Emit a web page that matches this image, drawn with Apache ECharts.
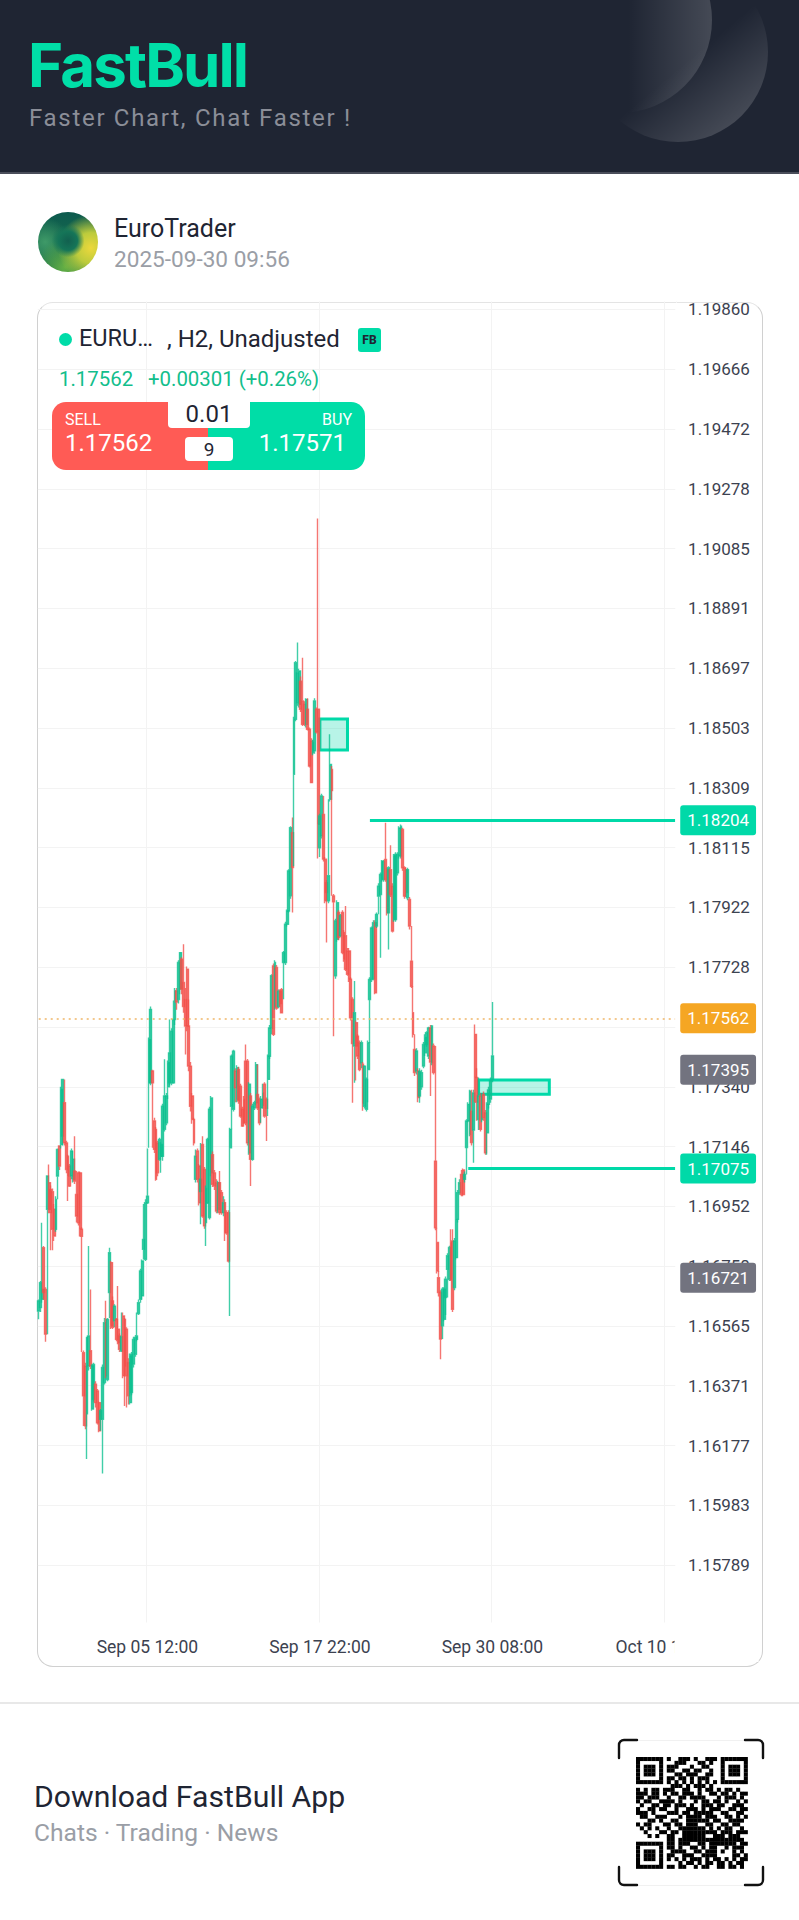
<!DOCTYPE html>
<html><head><meta charset="utf-8">
<script src="https://cdn.jsdelivr.net/npm/echarts@6/dist/echarts.min.js"></script>
<style>
html,body{margin:0;padding:0;background:#fff;width:799px;height:1920px;overflow:hidden;font-family:Roboto,sans-serif}
#page{position:relative;width:799px;height:1920px;overflow:hidden}
.t{position:absolute;white-space:nowrap;line-height:1;transform:translateY(-50%)}
.b{position:absolute}
#hdr{position:absolute;left:0;top:0;width:799px;height:172px;background:#1F2533;overflow:hidden;border-bottom:2px solid #4a4e5a}
#card{position:absolute;left:37px;top:302px;width:724px;height:1363px;border:1.5px solid #d0d0d0;border-top-color:#e4e4e4;border-radius:16px;box-sizing:content-box}
#chart{position:absolute;left:0;top:0;width:799px;height:1920px}
</style></head>
<body><div id="page">
<div id="hdr">
 <div class="b" style="left:526px;top:-73px;width:186px;height:186px;border-radius:50%;background:linear-gradient(90deg,rgba(255,255,255,0) 55%,rgba(255,255,255,.17) 100%)"></div>
 <div class="b" style="left:588px;top:-38px;width:180px;height:180px;border-radius:50%;background:linear-gradient(140deg,rgba(255,255,255,0) 55%,rgba(255,255,255,.18) 88%)"></div>
 <div class="t" style="left:28px;top:65px;font:700 60px Inter,sans-serif;color:#00DFA8;letter-spacing:-1.9px">FastBull</div>
 <div class="t" style="left:29px;top:118px;font-size:24px;color:#8B8E98;letter-spacing:1.7px">Faster Chart, Chat Faster !</div>
</div>
<div class="b" style="left:38px;top:212px;width:60px;height:60px;border-radius:50%;background:radial-gradient(circle at 50% 48%,#12604f 0,#157558 22%,rgba(21,117,88,0) 38%),radial-gradient(circle at 88% 60%,#ecd83c 0,#bccb3c 24%,rgba(90,160,60,0) 52%),radial-gradient(circle at 45% 92%,#66b044 0,rgba(60,140,60,0) 45%),radial-gradient(circle at 12% 50%,#3f9a68 0,rgba(63,154,104,0) 40%),linear-gradient(#0d5a4e,#1f7a4e)"></div>
<div class="t" style="left:114px;top:228px;font-size:25px;color:#1F2533">EuroTrader</div>
<div class="t" style="left:114px;top:260px;font-size:22.6px;color:#9A9EA6">2025-09-30 09:56</div>
<div id="card"></div>
<div id="chart"></div>

<div class="b" style="left:59px;top:333px;width:13px;height:13px;border-radius:50%;background:#00DCA8"></div>
<div class="t" style="left:79px;top:339px;font-size:23.5px;color:#1F2533">EURU…</div>
<div class="t" style="left:167px;top:339px;font-size:24px;color:#1F2533">, H2, Unadjusted</div>
<div class="b" style="left:358px;top:328px;width:23px;height:24px;border-radius:3px;background:#00DCA8;color:#1F2533;font:800 12px/24px Roboto;text-align:center">FB</div>
<div class="t" style="left:59px;top:379px;font-size:20.4px;color:#12BE8C">1.17562</div>
<div class="t" style="left:148px;top:379px;font-size:20.4px;color:#12BE8C">+0.00301 (+0.26%)</div>

<div class="b" style="left:52px;top:402px;width:156px;height:68px;background:#FF5B55;border-radius:14px 0 0 14px"></div>
<div class="b" style="left:208px;top:402px;width:157px;height:68px;background:#00DDA7;border-radius:0 14px 14px 0"></div>
<div class="b" style="left:168px;top:402px;width:82px;height:26px;background:#fff;border-radius:0 0 4px 4px"></div>
<div class="b" style="left:185px;top:437px;width:48px;height:24px;background:#fff;border-radius:4px"></div>
<div class="t" style="left:168px;width:82px;text-align:center;top:414px;font-size:24px;color:#1F2533">0.01</div>
<div class="t" style="left:185px;width:48px;text-align:center;top:449px;font-size:19px;color:#1F2533">9</div>
<div class="t" style="left:65px;top:420px;font-size:16px;color:#fff">SELL</div>
<div class="t" style="left:65px;top:443px;font-size:24px;color:#fff">1.17562</div>
<div class="t" style="right:447px;top:420px;font-size:16px;color:#fff">BUY</div>
<div class="t" style="right:453px;top:443px;font-size:24px;color:#fff">1.17571</div>

<div class="b" style="left:0;top:1702px;width:799px;height:2px;background:#E8E8E8"></div>
<div class="t" style="left:34px;top:1797px;font-size:30.2px;color:#1F2533">Download FastBull App</div>
<div class="t" style="left:34px;top:1833px;font-size:24.6px;color:#9A9EA6">Chats · Trading · News</div>
<canvas id="qr" class="b" style="left:615px;top:1735px" width="155" height="155"></canvas>
</div>
<script>
// Price ticks printed on the right-hand axis
const priceTicks=[1.19860,1.19666,1.19472,1.19278,1.19085,1.18891,1.18697,1.18503,1.18309,1.18115,1.17922,1.17728,1.17534,1.17340,1.17146,1.16952,1.16758,1.16565,1.16371,1.16177,1.15983,1.15789];
// Time labels, every 100 bars from bar 63
const dateTicks=['Sep 05 12:00','Sep 17 22:00','Sep 30 08:00','Oct 10 18:00'];
const firstDateTick=63, barsPerDateTick=100, slotCount=370;
// Candles, points above 1.00000: [open, close, low, high]
const barsA=[[16613,16646,16586,16650],[16624,16705,16610,16710],[16651,16683,16640,16899],[16818,16673,16650,16824],[16683,16538,16513,16690],[16943,17051,16538,17051],[17029,16943,16930,17088],[17007,16932,16810,17020],[17000,16878,16810,17010],[16943,16856,16840,16960],[16878,16975,16870,16985],[17051,17137,16975,17140],[17148,17083,17070,17150],[17153,17331,17140,17340],[17180,17364,17150,17364],[17288,17158,17150,17364],[17158,17072,17060,17165],[17115,17051,16970,17120],[17083,17018,17015,17090],[17051,17132,17040,17140],[17040,17105,17030,17132],[17067,17034,17025,17180],[16991,16921,16900,17067],[17061,16899,16890,17065],[17061,16878,16855,17065],[16878,16855,16480,16885],[16478,16338,16240,16485],[16435,16241,16230,16445],[16280,16527,16133,16530],[16435,16532,16420,16824],[16484,16435,16425,16683],[16295,16435,16290,16440],[16327,16440,16320,16445],[16376,16316,16300,16385],[16354,16251,16245,16360],[16316,16225,16220,16320],[16262,16290,16225,16295],[16262,16430,16086,16440],[16381,16575,16375,16590],[16586,16403,16395,16646],[16391,16586,16385,16590],[16673,16802,16590,16818],[16770,16565,16555,16775],[16646,16560,16555,16660],[16581,16629,16560,16635],[16586,16521,16515,16590],[16554,16511,16505,16694],[16532,16489,16480,16540],[16483,16530,16480,16608],[16597,16403,16395,16608],[16586,16435,16305,16590],[16554,16403,16300,16560],[16446,16338,16310,16460],[16316,16467,16310,16475],[16349,16473,16340,16480],[16441,16521,16430,16530],[16473,16527,16465,16535],[16521,16532,16515,16608],[16605,16640,16600,16650],[16651,16743,16640,16750],[16662,16775,16650,16780],[16813,16845,16780,16960],[16781,16964,16775,16975],[16964,16985,16960,17140],[17353,17493,17142,17500],[17353,17591,17345,17600]];
const barsB=[[17391,17353,17142,17395],[17229,17137,17125,17240],[17202,17040,17035,17210],[17158,17061,17050,17165],[17105,17169,17100,17175],[17115,17153,17061,17160],[17115,17277,17100,17285],[17202,17310,17195,17429],[17223,17310,17215,17320],[17340,17418,17300,17425],[17353,17450,17345,17558],[17353,17520,17345,17530],[17353,17558,17350,17620],[17558,17651,17540,17660],[17651,17615,17590,17660],[17623,17743,17610,17750],[17657,17775,17640,17775],[17754,17657,17640,17760],[17678,17600,17580,17802],[17623,17537,17445,17660],[17721,17537,17520,17730],[17537,17407,17390,17623],[17407,17277,17260,17420],[17310,17234,17220,17320],[17234,17158,17150,17240],[17040,17115,17030,17137],[17132,17040,17030,17140],[17083,16964,16955,17090],[17000,17040,16894,17158],[17153,16921,16915,17180],[17072,16889,16880,17080],[16900,17010,16824,17020],[16964,17169,16960,17175],[16916,17267,16910,17275],[17061,17304,17050,17310],[17120,17024,17015,17130],[17061,17018,17005,17070],[17029,16937,16930,17040],[16943,17029,16930,17035],[17029,16932,16925,17067],[16997,16932,16925,17005],[16932,16964,16920,16985],[16964,16867,16840,16975],[16932,16867,16860,16940],[16932,16775,16770,16940],[17142,17202,16597,17207],[17277,17439,17202,17445],[17267,17455,17260,17460],[17391,17337,17290,17400],[17299,17402,17290,17410],[17396,17294,17285,17405],[17342,17245,17240,17350],[17267,17213,17210,17275],[17299,17223,17220,17310],[17423,17223,17215,17477],[17423,17158,17150,17430],[17126,17348,17120,17355],[17310,17105,17018,17320],[17105,17277,17100,17285],[17272,17288,17265,17295],[17288,17412,17280,17420],[17315,17272,17265,17412],[17299,17223,17215,17305],[17272,17300,17223,17310],[17280,17320,17270,17350],[17348,17245,17240,17355]];
const barsC=[[17299,17270,17164,17305],[17364,17439,17245,17445],[17439,17531,17430,17540],[17530,17700,17510,17705],[17732,17510,17505,17740],[17600,17743,17590,17750],[17727,17595,17590,17735],[17600,17650,17595,17655],[17650,17610,17600,17655],[17655,17580,17580,17660],[17743,17775,17624,17780],[17743,17867,17735,17875],[17867,17910,17860,17915],[17910,18040,17905,18045],[17959,18180,17950,18185],[18164,18051,17905,18213],[18353,18531,18055,18540],[18531,18715,18525,18720],[18585,18682,18575,18780],[18580,18688,18570,18695],[18655,18564,18555,18670],[18591,18515,18510,18731],[18580,18515,18510,18590],[18515,18596,18505,18600],[18564,18499,18495,18600],[18499,18380,18375,18505],[18461,18326,18325,18470],[18423,18456,18415,18465],[18429,18591,18420,18600],[18564,18490,18485,18570],[18564,18191,18080,19182],[18115,18218,18085,18225],[18153,18283,18145,18290],[18223,18078,18070,18283],[18078,17943,17935,18085],[18002,17970,17808,18010],[17943,18024,17935,18272],[18272,18385,18265,18483],[18369,18300,17959,18380],[17959,17940,17504,17965],[17700,17878,17690,17885],[17818,17937,17810,17945],[17905,17824,17815,17912],[17830,17895,17825,17900],[17905,17775,17770,17912],[17840,17754,17745,17848],[17830,17721,17715,17926],[17780,17705,17700,17790],[17780,17689,17680,17790],[17689,17564,17555,17695],[17623,17480,17288,17630],[17472,17580,17353,17683],[17548,17472,17360,17555],[17504,17440,17430,17510],[17483,17396,17390,17490],[17418,17483,17400,17490],[17413,17286,17262,17420],[17277,17407,17270,17410],[17267,17364,17260,17370],[17396,17483,17290,17490]];
const barsD=[[17623,17688,17483,17695],[17688,17855,17680,17860],[17690,17872,17685,17880],[17872,17645,17640,17880],[17861,17899,17855,17905],[17958,17990,17899,18000],[17963,18028,17758,18035],[18012,18071,18005,18075],[18012,18070,18005,18075],[18077,18012,18005,18196],[18044,17904,17895,18050],[17904,18050,17785,18055],[18044,17963,17955,18123],[17990,17845,17840,18000],[17882,18088,17875,18095],[17882,18093,17875,18100],[18034,18093,18025,18100],[18088,18179,18080,18185],[18088,18185,18080,18190],[18174,18050,18040,18180],[18050,17958,17950,18055],[18044,17970,17955,18050],[17953,18044,17945,18050],[17947,17861,17850,17955],[17747,17666,17660,17861],[17580,17510,17500,17666],[17461,17386,17375,17510],[17391,17456,17380,17465],[17391,17305,17290,17400],[17310,17390,17288,17400],[17340,17386,17330,17395],[17407,17477,17400,17485],[17450,17500,17440,17510],[17477,17515,17470,17520],[17440,17531,17430,17535],[17531,17420,17310,17540],[17418,17537,17410,17540],[17472,17386,17380,17480],[17099,16883,16875,17472],[16835,16743,16735,16883],[16721,16673,16660,16743],[16673,16522,16457,16680],[16565,16684,16522,16690],[16586,16684,16580,16690],[16657,16716,16600,16725],[16748,16792,16657,16800],[16716,16819,16710,16825],[16835,16716,16710,16878],[16840,16619,16610,16878],[16689,16840,16680,16850],[16786,16910,16780,17045],[16910,16997,16900,17005],[16997,17029,16990,17040],[17056,16991,16985,17070],[17070,16991,16985,17075],[17040,17056,17030,17065],[17143,17229,17056,17235],[17229,17283,17225,17290],[17186,17326,17180,17330],[17261,17159,17150,17330],[17200,17320,17094,17330],[17510,17370,17290,17542],[17370,17290,17230,17400],[17234,17310,17200,17370],[17310,17202,17195,17320],[17234,17310,17225,17320],[17315,17240,17230,17325],[17256,17126,17120,17265],[17191,17283,17120,17290],[17283,17330,17270,17340],[17300,17360,17288,17370],[17364,17440,17355,17615]];
// Horizontal levels: price and the bar it starts at
const resistanceLevel=[1.18204,192];
const supportLevel=[1.17075,249];
const currentPrice=1.17562;
const greyMarkers=[1.17395,1.16721];
// Boxes: first bar, last bar, top price, bottom price
const boxes=[[163,179,1.18532,1.18432],[255,296,1.17362,1.17316]];
// QR pattern
const qrRows=['11111110100111010011101111111','10000010001110001101001000001','10111010111000100110001011101','10111010110011011001001011101','10111010001101110011001011101','10000010110110101110001000001','11111110101010101010101111111','00000000011101011101000000000','10101101110011001011010110100','11101101011011101001101101011','11011100100110111100010111010','10110011110100010110110100101','01001101101110100111011001110','10011011001001110101110011011','11101000111011011111001100110','01100111000101111011100110101','00011010011001111110110011110','10110001101101110011001101100','01010100100111111101010110010','00100011011011111111101110111','00010100110011111100111011100','00000000110111111111111111110','11111110110111001101111111011','10000010110100110101100101110','10111010011110011011101001010','10111010110011100111100001101','10111010101010111010110101011','10000010000101101011011010110','11111110110110010110011011010'];

const toPrice=p=>+(1+p/100000).toFixed(5);
const candleData=[...barsA,...barsB,...barsC,...barsD].map(r=>r.map(toPrice));
const isDateSlot=i=>i>=firstDateTick&&(i-firstDateTick)%barsPerDateTick===0;
const categories=Array.from({length:slotCount},(_,i)=>isDateSlot(i)?dateTicks[(i-firstDateTick)/barsPerDateTick]:'');
const last=slotCount-1;
const GREEN='#00D9A8';
const badge=(bg,price)=>({show:true,position:'end',distance:5,color:'#fff',fontFamily:'Roboto',fontSize:17,lineHeight:18,padding:[6,7],backgroundColor:bg,borderRadius:3,formatter:()=>price.toFixed(5)});
const level=(price,start,width,color,type,bg)=>[{coord:[start,price],lineStyle:{color,width,type},label:badge(bg,price)},{coord:[last,price]}];

const chart=echarts.init(document.getElementById('chart'),null,{renderer:'svg',width:799,height:1920});
chart.setOption({
 animation:false,
 backgroundColor:'transparent',
 grid:{left:37.85,top:301.5,width:638.25,height:1321,containLabel:false},
 xAxis:{type:'category',data:categories,boundaryGap:true,
  axisLine:{show:false},axisTick:{show:false},
  splitLine:{show:true,interval:isDateSlot,lineStyle:{color:'#F3F3F3',width:1}},
  axisLabel:{interval:isDateSlot,color:'#3C4250',fontFamily:'Roboto',fontSize:17.5,margin:15,hideOverlap:false}},
 yAxis:{type:'value',position:'right',min:1.156032,max:1.198859,scale:true,
  axisLine:{show:false},
  axisTick:{show:false,customValues:priceTicks},
  splitLine:{show:true,lineStyle:{color:'#F3F3F3',width:1}},
  axisLabel:{customValues:priceTicks,margin:12,color:'#3C4250',fontFamily:'Roboto',fontSize:17,formatter:v=>v.toFixed(5)}},
 graphic:[
  {type:'rect',z:100,shape:{x:674.6,y:1628,width:84,height:34},style:{fill:'#fff'}},
  {type:'rect',z:100,shape:{x:675.3,y:303,width:2.4,height:1322},style:{fill:'#fff'}}],
 series:[{type:'candlestick',data:candleData,barWidth:2.4,z:3,
  itemStyle:{color:'#0CC08F',color0:'#F2504A',borderColor:'#0CC08F',borderColor0:'#F2504A',borderWidth:1.4,opacity:.78},
  markArea:{silent:true,data:boxes.map(b=>[
    {coord:[b[0],b[2]],itemStyle:{color:'rgba(0,217,168,.28)',borderColor:GREEN,borderWidth:3}},
    {coord:[b[1],b[3]]}])},
  markLine:{silent:true,symbol:['none','none'],animation:false,precision:5,data:[
    level(currentPrice,0,1.5,'#F0B668',[2,4],'#F5A623'),
    level(resistanceLevel[0],resistanceLevel[1],3,GREEN,'solid',GREEN),
    level(supportLevel[0],supportLevel[1],3,GREEN,'solid',GREEN),
    level(greyMarkers[0],last-1,1,'rgba(0,0,0,0)','solid','#72737F'),
    level(greyMarkers[1],last-1,1,'rgba(0,0,0,0)','solid','#72737F')
  ]}
 }]
});

// QR block
const q=document.getElementById('qr').getContext('2d');
q.fillStyle='#F1F1F1';q.fillRect(5,5,143,1);q.fillRect(5,150,143,1);
q.fillStyle='#000';
const m=3.85;
qrRows.forEach((r,y)=>[...r].forEach((c,x)=>{if(c==='1')q.fillRect(21+x*m,22+y*m,m+.2,m+.2)}));
q.strokeStyle='#111';q.lineWidth=2.4;q.lineCap='round';q.lineJoin='round';
[[22,5,4,5,4,23],[130,5,148,5,148,23],[4,132,4,150,22,150],[148,132,148,150,130,150]].forEach(a=>{q.beginPath();q.moveTo(a[0],a[1]);q.arcTo(a[2],a[3],a[4],a[5],5);q.lineTo(a[4],a[5]);q.stroke()});
</script>
</body></html>
